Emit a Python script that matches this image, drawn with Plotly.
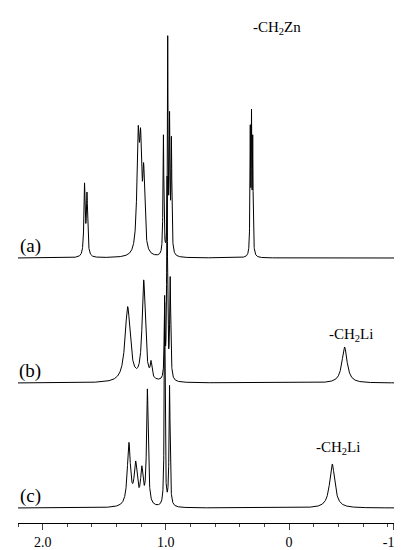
import numpy as np
import plotly.graph_objects as go

# peak lists per spectrum: position (ppm), height (arb.), half-width (ppm)
a_pos = [1.66, 1.64, 1.225, 1.205, 1.18, 1.02, 0.985, 0.97, 0.955, 0.315, 0.305, 0.295]
a_hgt = [70, 60, 110, 90, 75, 120, 210, 130, 110, 120, 130, 110]
a_wid = [0.006, 0.006, 0.012, 0.010, 0.010, 0.004, 0.003, 0.004, 0.004, 0.003, 0.003, 0.003]

b_pos = [1.31, 1.18, 1.12, 1.01, 0.99, 0.965, -0.45]
b_hgt = [75, 100, 15, 70, 200, 100, 36]
b_wid = [0.025, 0.015, 0.008, 0.004, 0.004, 0.005, 0.025]

c_pos = [1.30, 1.245, 1.195, 1.15, 1.01, 0.97, -0.35]
c_hgt = [62, 40, 34, 115, 210, 120, 44]
c_wid = [0.015, 0.015, 0.012, 0.008, 0.004, 0.005, 0.025]

offsets = [265, 140, 15]
labels = ["(a)", "(b)", "(c)"]

x = np.linspace(2.2, -0.9, 6000)


def spectrum(pos, hgt, wid):
    y = np.zeros_like(x)
    for p, h, w in zip(pos, hgt, wid):
        y += h / (1 + ((x - p) / w) ** 2)
    return y


fig = go.Figure()
for (pos, hgt, wid), off in zip([(a_pos, a_hgt, a_wid), (b_pos, b_hgt, b_wid), (c_pos, c_hgt, c_wid)], offsets):
    fig.add_trace(go.Scatter(x=x, y=spectrum(pos, hgt, wid) + off, mode="lines",
                             line=dict(color="black", width=1), showlegend=False))

for lab, off in zip(labels, offsets):
    fig.add_annotation(x=2.1, y=off + 12, text=lab, showarrow=False,
                       font=dict(size=19, color="black"))
fig.add_annotation(x=0.1, y=495, text="-CH<sub>2</sub>Zn", showarrow=False, font=dict(size=15))
fig.add_annotation(x=-0.5, y=188, text="-CH<sub>2</sub>Li", showarrow=False, font=dict(size=15))
fig.add_annotation(x=-0.4, y=75, text="-CH<sub>2</sub>Li", showarrow=False, font=dict(size=15))

fig.update_layout(
    width=402, height=550, plot_bgcolor="white", paper_bgcolor="white",
    margin=dict(l=10, r=7, t=5, b=35),
    font=dict(family="Liberation Serif", color="black"),
    xaxis=dict(range=[2.2, -0.9], showgrid=False, zeroline=False, showline=True,
               linecolor="black", ticks="outside", ticklen=6,
               tickvals=[2, 1, 0, -0.85], ticktext=["2.0", "1.0", "0", "-1.0"],
               minor=dict(dtick=0.2, ticks="outside", ticklen=3), tickfont=dict(size=14)),
    yaxis=dict(range=[0, 510], visible=False),
)
fig.write_html("out.html")
